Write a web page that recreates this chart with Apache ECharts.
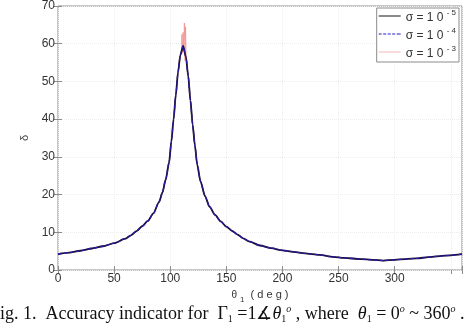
<!DOCTYPE html>
<html>
<head>
<meta charset="utf-8">
<script src="https://cdn.jsdelivr.net/npm/echarts@6/dist/echarts.min.js"></script>
<style>
  html, body { margin: 0; padding: 0; background: #fff; }
  #chart { width: 474px; height: 327px; }
</style>
</head>
<body>
<div id="chart"></div>
<script>
// Accuracy indicator delta versus theta_1 (degrees)
const theta = [0, 10, 20, 30, 40, 50, 60, 65, 70, 75, 80, 85, 90, 93, 96, 99, 101, 103, 105, 107, 109, 111.5,
  114, 116, 118, 120, 122, 124, 127, 131, 135, 140, 145, 150, 155, 160, 165, 170, 180, 190, 200, 210, 220,
  233, 245, 255, 270, 280, 290, 300, 310, 320, 330, 340, 350, 360];
const delta = [4.2, 4.6, 5.1, 5.7, 6.3, 7.1, 8.3, 9.2, 10.3, 11.6, 13.0, 15.0, 18.0, 20.5, 24.0, 28.5, 34.0,
  40.0, 46.5, 52.5, 57.0, 59.4, 56.5, 51.5, 45.0, 38.5, 33.0, 28.0, 23.5, 19.6, 16.8, 14.6, 12.9, 11.5, 10.4,
  9.4, 8.4, 7.6, 6.5, 5.8, 5.2, 4.8, 4.4, 4.0, 3.5, 3.2, 2.9, 2.7, 2.5, 2.7, 2.9, 3.1, 3.4, 3.7, 3.9, 4.2];

// Noisier run (sigma = 1e-3): same curve, jittery around the peak
const thetaNoisy = [0, 10, 20, 30, 40, 50, 60, 65, 70, 75, 80, 85, 90, 93, 96, 99, 101, 103, 105, 107, 109,
  110, 110.4, 111, 111.5, 112, 112.6, 113.2, 113.7, 114.2, 115, 116, 118, 120, 122, 124, 127, 131,
  135, 140, 145, 150, 155, 160, 165, 170, 180, 190, 200, 210, 220, 233, 245, 255, 270, 280, 290, 300, 310,
  320, 330, 340, 350, 360];
const deltaNoisy = [4.2, 4.6, 5.1, 5.7, 6.3, 7.1, 8.3, 9.2, 10.3, 11.6, 13.0, 15.0, 18.0, 20.5, 24.0, 28.5,
  34.0, 40.0, 46.5, 52.5, 57.0, 58.0, 62.5, 57.5, 63.0, 58.0, 65.5, 55.5, 64.5, 56.0, 54.5, 51.5,
  45.0, 38.5, 33.0, 28.0, 23.5, 19.6, 16.8, 14.6, 12.9, 11.5, 10.4, 9.4, 8.4, 7.6, 6.5, 5.8, 5.2, 4.8, 4.4,
  4.0, 3.5, 3.2, 2.9, 2.7, 2.5, 2.7, 2.9, 3.1, 3.4, 3.7, 3.9, 4.2];

const sigmaExp = { 'σ5': '5', 'σ4': '4', 'σ3': '3' };
const xTicks = [0, 50, 100, 150, 200, 250, 300, 350];

const pair = (xs, ys) => xs.map((x, i) => [x, ys[i]]);

// legend line samples (solid and dashed strokes)
const solidIcon = 'path://M0,0h22v1h-22z';
const dashIcon = 'path://M0,0h3v1h-3z M4.5,0h3v1h-3z M9,0h3v1h-3z M13.5,0h3v1h-3z M18,0h4v1h-4z';

const chart = echarts.init(document.getElementById('chart'), null, { renderer: 'canvas' });
const labelFont = { fontFamily: 'Liberation Sans, Arial, sans-serif', fontSize: 12, color: '#333' };
const grid = { left: 58, top: 6, right: 12, bottom: 57 };
const serif = 'Liberation Serif, Times New Roman, serif';

chart.setOption({
  animation: false,
  backgroundColor: '#fff',
  grid: Object.assign({ show: true, borderColor: '#8c8c8c', borderWidth: 1 }, grid),
  legend: {
    orient: 'vertical',
    right: 15,
    top: 8,
    itemWidth: 22,
    itemHeight: 2,
    itemGap: 3,
    padding: [1, 3, 2, 2],
    backgroundColor: '#fff',
    borderColor: '#8c8c8c',
    borderWidth: 1,
    borderRadius: 0,
    data: [
      { name: 'σ5', icon: solidIcon, itemStyle: { color: '#141414' } },
      { name: 'σ4', icon: dashIcon, itemStyle: { color: '#2020c8' } },
      { name: 'σ3', icon: solidIcon, itemStyle: { color: '#f4b4b4' } }
    ],
    formatter: n => '{b|σ = 1 0}{s| - ' + sigmaExp[n] + '}',
    textStyle: {
      rich: {
        b: { fontFamily: 'Liberation Sans, Arial, sans-serif', fontSize: 12, color: '#333', padding: [4, 0, 0, 0] },
        s: { fontFamily: 'Liberation Sans, Arial, sans-serif', fontSize: 8, color: '#333', padding: [0, 0, 6, 1] }
      }
    }
  },
  xAxis: [{
    type: 'value', min: 0, max: 360, interval: 50,
    name: '{t|θ}{sub|1}{u| ( d e g )}',
    nameLocation: 'middle', nameGap: 16,
    nameTextStyle: {
      rich: {
        t: { fontFamily: 'Liberation Sans, Arial, sans-serif', fontSize: 10, color: '#333' },
        sub: { fontFamily: 'Liberation Sans, Arial, sans-serif', fontSize: 8, color: '#333', padding: [8, 3, 0, 3] },
        u: { fontFamily: 'Liberation Sans, Arial, sans-serif', fontSize: 11, color: '#333' }
      }
    },
    axisLine: { show: false },
    axisTick: { inside: true, length: 4, lineStyle: { color: '#8c8c8c' } },
    axisLabel: Object.assign({ margin: 3, showMaxLabel: false,
      customValues: xTicks }, labelFont),
    splitLine: { show: true, lineStyle: { color: '#ededed', width: 1, type: [1, 1] } }
  }, {
    type: 'value', min: 0, max: 360, interval: 50, position: 'top',
    axisLine: { show: false }, axisLabel: { show: false }, splitLine: { show: false },
    axisTick: { inside: true, length: 4, lineStyle: { color: '#8c8c8c' } }
  }],
  yAxis: [{
    type: 'value', min: 0, max: 70, interval: 10,
    name: 'δ', nameLocation: 'middle', nameGap: 27, nameRotate: 90,
    nameTextStyle: { fontFamily: 'Liberation Sans, Arial, sans-serif', fontSize: 11, color: '#444' },
    axisLine: { show: false },
    axisTick: { inside: true, length: 4, lineStyle: { color: '#8c8c8c' } },
    axisLabel: Object.assign({ margin: 3 }, labelFont),
    splitLine: { show: true, lineStyle: { color: '#ededed', width: 1, type: [1, 1] } }
  }, {
    type: 'value', min: 0, max: 70, interval: 10, position: 'right',
    axisLine: { show: false }, axisLabel: { show: false }, splitLine: { show: false },
    axisTick: { inside: true, length: 4, lineStyle: { color: '#8c8c8c' } }
  }],
  series: [{
    name: 'σ5', type: 'line', data: pair(theta, delta), symbol: 'none', smooth: 0.25, smoothMonotone: 'x',
    z: 3, lineStyle: { color: '#1a1030', width: 1.8 }, itemStyle: { color: '#141414' }
  }, {
    name: 'σ4', type: 'line', data: pair(theta, delta), symbol: 'none', smooth: 0.25, smoothMonotone: 'x',
    z: 4, lineStyle: { color: '#2a1aa8', width: 1.3, type: [4, 2] }, itemStyle: { color: '#2020c8' }
  }, {
    name: 'σ3', type: 'line', data: pair(thetaNoisy, deltaNoisy), symbol: 'none',
    z: 2, lineStyle: { color: '#f07a7a', width: 1, opacity: 0.6 }, itemStyle: { color: '#f4a0a0' }
  }],
  graphic: [{
    type: 'text', left: -10, top: 304,
    style: {
      text: '{r|Fig. 1.  Accuracy indicator for  Γ}{sb|1}{r| =1∡}{i|θ}{sb|1}{sp|o}{r| , where  }{i|θ}{sb|1}{r| = 0}{sp|o}{r| ~ 360}{sp|o}{r| .}',
      rich: {
        r: { fontFamily: serif, fontSize: 18, fill: '#111' },
        i: { fontFamily: serif, fontSize: 18, fontStyle: 'italic', fill: '#111' },
        sb: { fontFamily: serif, fontSize: 10, fill: '#111', padding: [10, 0, 0, 0] },
        sp: { fontFamily: serif, fontSize: 10, fontStyle: 'italic', fill: '#111', padding: [0, 0, 10, 0] }
      }
    }
  }]
});
</script>
</body>
</html>
